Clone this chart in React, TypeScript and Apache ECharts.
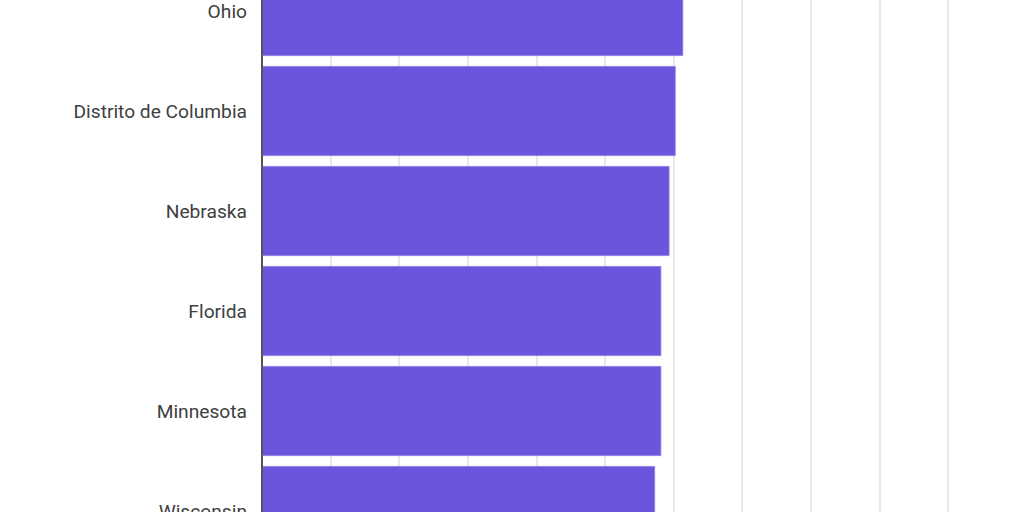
import React, { useEffect, useRef } from "react";
import * as echarts from "echarts";

const categories = ["Ohio", "Distrito de Columbia", "Nebraska", "Florida", "Minnesota", "Wisconsin"];
const values = [6.14, 6.03, 5.94, 5.82, 5.82, 5.73];
const axisMax = 10;

export default function App() {
  const ref = useRef<HTMLDivElement>(null);
  useEffect(() => {
    document.body.style.margin = "0";
    const chart = echarts.init(ref.current!, null, { renderer: "svg" });
    chart.setOption({
      animation: false,
      grid: { left: 262, top: 0, width: 686, height: 600, containLabel: false },
      xAxis: {
        type: "value",
        min: 0,
        max: axisMax,
        interval: 1,
        axisLabel: { show: false },
        axisLine: { show: false },
        axisTick: { show: false },
        splitLine: { show: true, lineStyle: { color: "#e0e0e0", width: 1.5 } },
      },
      yAxis: {
        type: "category",
        data: categories,
        inverse: true,
        axisLine: { show: true, lineStyle: { color: "#555555", width: 2 } },
        axisTick: { show: false },
        axisLabel: {
          color: "#404040",
          fontFamily: "Roboto",
          fontSize: 19.2,
          margin: 15,
        },
        z: 5,
      },
      series: [
        {
          type: "bar",
          data: values,
          barCategoryGap: "10%",
          itemStyle: { color: "#6C54DC", borderColor: "#8B7AE4", borderWidth: 0.8 },
          z: 2,
        },
      ],
    });
    return () => chart.dispose();
  }, []);
  return (
    <div style={{ position: "fixed", left: 0, top: 0, width: 1024, height: 512, overflow: "hidden", background: "#fff" }}>
      <div ref={ref} style={{ position: "absolute", left: 0, top: -39, width: 1024, height: 600 }} />
    </div>
  );
}
